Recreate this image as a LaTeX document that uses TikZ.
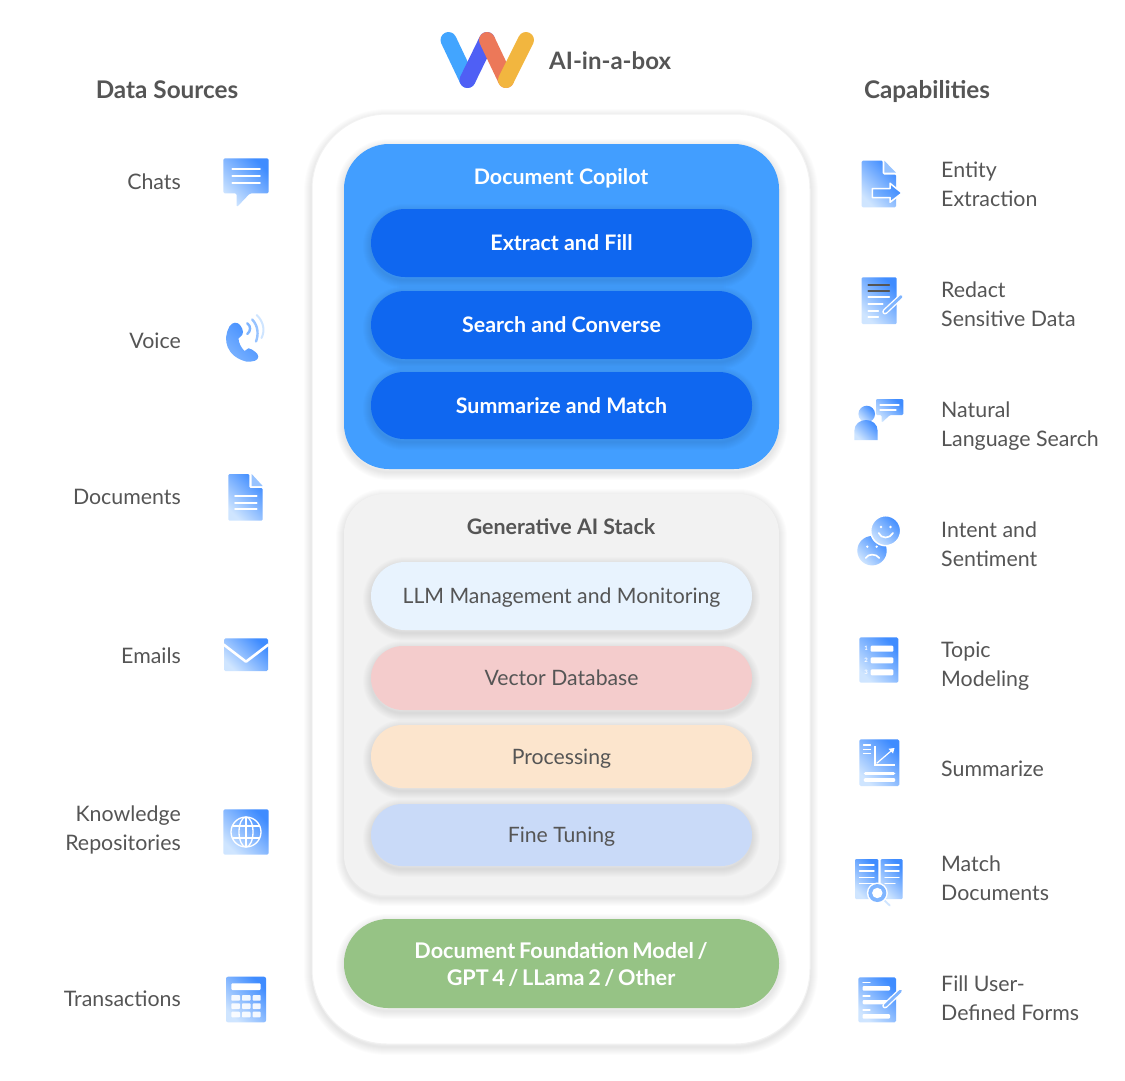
\documentclass[tikz,border=0pt]{standalone}
\usepackage{fontspec}
\setmainfont{Lato}
\definecolor{txt}{HTML}{555555}
\definecolor{iconA}{HTML}{3F8CFF}
\definecolor{iconB}{HTML}{CFE5FF}
\definecolor{iconM}{HTML}{7FB5FF}
\definecolor{panelblue}{HTML}{429EFF}
\definecolor{pillblue}{HTML}{0F67F0}
\definecolor{panelgrey}{HTML}{F2F2F2}
\definecolor{pillA}{HTML}{E8F3FE}
\definecolor{pillB}{HTML}{F4CCCC}
\definecolor{pillC}{HTML}{FCE5CD}
\definecolor{pillD}{HTML}{C9DAF8}
\definecolor{panelgreen}{HTML}{96C385}
\definecolor{logoA}{HTML}{42A5FF}
\definecolor{logoB}{HTML}{4F5FF5}
\definecolor{logoC}{HTML}{EC7859}
\definecolor{logoD}{HTML}{F2B63F}
\newcommand{\tightsp}{\spaceskip=3.6pt\relax}
\newcommand{\midline}[1]{\raisebox{-7.5pt}[0pt][0pt]{#1}}
\tikzset{
  lab/.style={font=\fontsize{21.35}{29}\selectfont,text=txt,inner sep=0pt},
  labL/.style={lab,align=right,anchor=east},
  labR/.style={lab,align=left,anchor=west},
  heading/.style={font=\fontsize{24.3}{29}\bfseries\selectfont,text=txt,inner sep=0pt},
  whitetxt/.style={font=\fontsize{21.4}{27}\bfseries\selectfont,text=white,align=center},
  greytxt/.style={font=\fontsize{21.2}{27}\selectfont,text=txt,align=center},
  ic/.style={left color=iconA,right color=iconB,shading angle=-45},
  icdark/.style={left color=iconA,right color=iconM,shading angle=-45},
  wl/.style={draw=white,line width=1.7pt,line cap=round},
  wf/.style={fill=white,rounded corners=1pt},
  logostroke/.style={line width=16pt,line cap=round}
}
% name, x1, y1, x2, y2, radius, node style, text
\newcommand{\card}[8]{%
  \foreach \s in {2,4,...,16}{%
    \path[draw=black,draw opacity=.012,line width=\s pt,rounded corners=#6 pt]
      (#2,#3+3) rectangle (#4,#5+3);}
  \pgfmathsetmacro{\cw}{#4-#2}\pgfmathsetmacro{\ch}{#5-#3}
  \node[minimum width=\cw pt,minimum height=\ch pt,inner sep=0pt,rounded corners=#6 pt,#7] (#1)
    at ({(#2+#4)/2},{(#3+#5)/2}) {#8};}
\begin{document}
\begin{tikzpicture}[x=1pt,y=-1pt]
\useasboundingbox (0,0) rectangle (1125,1080);
\fill[white] (0,0) rectangle (1125,1080);

% logo
\draw[logostroke,logoA] (448.5,40) -- (467.5,80);
\draw[logostroke,logoB] (467.5,80) -- (487,40);
\draw[logostroke,logoC] (487,40) -- (506,80);
\draw[logostroke,logoD] (506,80) -- (526,40);
\node[font=\fontsize{24}{29}\bfseries\selectfont,text=txt,anchor=west,inner sep=0pt] (brand) at (549,61) {AI-in-a-box};

\node[heading] (dshead) at (167,89.5) {Data Sources};
\node[heading] (caphead) at (927,91) {Capabilities};

% main panels
\card{outer}{312}{114}{810}{1044}{75}{fill=white,draw=black!5,line width=1pt}{}
\card{copilot}{344}{144}{779}{469}{45}{fill=panelblue}{}
\node[whitetxt] (copilottitle) at (561,178) {Document Copilot};
\card{extract}{371}{209}{752}{277}{34}{fill=pillblue,whitetxt}{\midline{Extract and Fill}}
\card{search}{371}{291}{752}{359}{34}{fill=pillblue,whitetxt}{\midline{Search and Converse}}
\card{summ}{371}{372}{752}{439}{33}{fill=pillblue,whitetxt}{\midline{Summarize and Match}}
\card{stack}{344}{494}{779}{895}{40}{fill=panelgrey}{}
\node[font=\fontsize{21.4}{27}\bfseries\selectfont,text=txt] (stacktitle) at (561,527) {Generative AI Stack};
\card{llm}{371}{562}{752}{630}{34}{fill=pillA,greytxt}{\midline{LLM Management and Monitoring}}
\card{vector}{371}{646}{752}{710}{32}{fill=pillB,greytxt}{\midline{Vector Database}}
\card{proc}{371}{725}{752}{788}{31}{fill=pillC,greytxt}{\midline{Processing}}
\card{tune}{371}{804}{752}{866}{31}{fill=pillD,greytxt}{\midline{Fine Tuning}}
\card{found}{344}{919}{779}{1008}{44}{fill=panelgreen}{}
\node[whitetxt,font=\fontsize{21.6}{27}\bfseries\selectfont\tightsp] (foundtext) at (561,964) {Document Foundation Model /\\GPT 4 / LLama 2 / Other};

% left labels
\node[labL] (l1) at (181,182) {Chats};
\node[labL] (l2) at (181,341) {Voice};
\node[labL] (l3) at (181,497) {Documents};
\node[labL] (l4) at (181,656) {Emails};
\node[labL] (l5) at (181,830) {Knowledge\\Repositories};
\node[labL] (l6) at (181,999) {Transactions};

% right labels
\node[labR] (r1) at (941,184.5) {Entity\\Extraction};
\node[labR] (r2) at (941,304.5) {Redact\\Sensitive Data};
\node[labR] (r3) at (941,426) {Natural\\Language Search};
\node[labR] (r4) at (941,544) {Intent and\\Sentiment};
\node[labR] (r5) at (941,666) {Topic\\Modeling};
\node[labR] (r6) at (941,769) {Summarize};
\node[labR] (r7) at (941,878) {Match\\Documents};
\node[labR] (r8) at (941,998) {Fill User-\\Defined Forms};

% --- left icons ---
% chat
\shade[ic,rounded corners=1.5pt] (223.3,158.3) -- (268.7,158.3) -- (268.7,193.3) -- (250,193.3) -- (236.7,207.3) -- (236.7,193.3) -- (223.3,193.3) -- cycle;
\foreach \y in {169.3,176.3,183.3} \draw[wl] (232.3,\y) -- (260,\y);
% phone
\shade[icdark] (229.3,326.7) .. controls (231,324) and (233,322.7) .. (235,322.7) .. controls (237,322.7) and (239,323.5) .. (240,325)
  .. controls (241.5,327) and (243,329.5) .. (243,331.7) .. controls (243,334) and (242,336) .. (240.5,336.7)
  -- (238.5,338.3) .. controls (238.5,342.5) and (241,347.5) .. (244.5,351) -- (248.5,348.3)
  .. controls (250.5,348.5) and (253,350) .. (255,351.7) .. controls (257,353) and (258.3,355) .. (258.3,356.7)
  .. controls (258.3,358.5) and (257,360) .. (255,360.7) .. controls (252,361.7) and (249,361.7) .. (246.7,361.7)
  .. controls (226.7,356.7) and (222,340) .. (229.3,326.7) -- cycle;
\draw[iconM,line width=2.4pt,line cap=round] (247.3,323.3) .. controls (251,326) and (251,331) .. (247.3,334);
\draw[iconM!70!iconB,line width=2.4pt,line cap=round] (252.2,319.5) .. controls (258.5,326) and (258.5,335) .. (256,341.5);
\draw[iconB,line width=2pt,line cap=round] (256.7,315) .. controls (264,322) and (265,331) .. (261.5,338);
% document
\shade[ic,rounded corners=1.2pt] (228.3,474) -- (249.3,474) -- (249.3,488) -- (262.7,488) -- (262.7,520.7) -- (228.3,520.7) -- cycle;
\fill[iconM!70!iconB] (251.7,474) -- (262.7,486) -- (251.7,486) -- cycle;
\foreach \y in {496,502.7,509.3} \draw[wl] (235,\y) -- (256.7,\y);
% mail
\shade[ic,rounded corners=1.5pt] (224,638.3) rectangle (268,671);
\draw[draw=white,line width=2.6pt,line join=round] (223.5,644.5) -- (246,661.7) -- (268.5,644.5);
% globe
\shade[ic,rounded corners=1.5pt] (223.3,809.3) rectangle (268.7,854.7);
\draw[white,line width=1.3pt] (246,832) circle (15);
\draw[white,line width=1.3pt] (246,832) ellipse (7 and 15);
\draw[white,line width=1.3pt] (246,817) -- (246,847) (232.5,826) -- (259.5,826) (232.5,838) -- (259.5,838);
% calculator
\shade[ic,rounded corners=2pt] (226,976.7) rectangle (266,1022.3);
\fill[wf] (231.3,983.3) rectangle (260.7,990);
\foreach \x/\w in {231.3/240,242/250.5,252.7/260.7}
  \foreach \y/\v in {995/1000.7,1003.3/1009,1011.7/1017.3}
    \fill[white,rounded corners=.8pt,fill opacity=.9] (\x,\y) rectangle (\w,\v);

% --- right icons ---
% entity extraction
\shade[ic,rounded corners=1.2pt] (861.7,160.7) -- (882.7,160.7) -- (882.7,174.5) -- (896,174.5) -- (896,207.3) -- (861.7,207.3) -- cycle;
\fill[iconM!70!iconB] (884.3,160.7) -- (896,172.7) -- (884.3,172.7) -- cycle;
\shade[icdark,draw=white,line width=1.5pt,line join=round] (872.3,188.5) -- (890,188.5) -- (890,183.3) -- (902,193) -- (890,202.3) -- (890,197.5) -- (872.3,197.5) -- cycle;
% redact
\shade[ic,rounded corners=1.2pt] (861.7,277.3) rectangle (896.7,324);
\foreach \y in {284.7,291} \draw[txt,line width=1.7pt,line cap=round] (868.3,\y) -- (889.3,\y);
\foreach \y/\e in {297.3/889.3,304/882.7,310.7/878.3,316.7/878.3} \draw[wl] (868.3,\y) -- (\e,\y);
\draw[white,line width=5.5pt,line cap=round] (885,311.7) -- (901.2,296.5);
\draw[iconM,line width=2.8pt,line cap=round] (885,311.7) -- (901.2,296.5);
% person + bubble
\shade[ic] (866.7,414) circle (8.3);
\shade[ic] (854.3,440) -- (854.3,431) .. controls (854.3,424) and (860,420) .. (866,420) .. controls (872,420) and (877.7,424) .. (877.7,431) -- (877.7,440) -- cycle;
\shade[ic,rounded corners=1.2pt] (876,399) -- (903.3,399) -- (903.3,415) -- (890,415) -- (881.7,422.7) -- (881.7,415) -- (876,415) -- cycle;
\draw[wl,line width=1.3pt] (880,405) -- (899,405) (880,410) -- (896,410);
% faces
\shade[ic] (872,550.7) circle (14.7);
\fill[white] (867.3,546.7) circle (1.3) (876.7,546.7) circle (1.3);
\draw[white,line width=1.7pt,line cap=round] (865.7,558) .. controls (868,553.5) and (876,553.5) .. (879.3,558);
\shade[ic,draw=white,line width=1.5pt] (885.7,530.7) circle (15);
\fill[white] (881,527) circle (1.3) (890.5,527) circle (1.3);
\draw[white,line width=1.7pt,line cap=round] (878.7,533) .. controls (881,539) and (890,539) .. (893,533);
% topic modeling
\shade[ic,rounded corners=1.5pt] (859.3,637.3) rectangle (898.3,682.7);
\fill[wf] (870.7,645.7) rectangle (893.3,651.7);
\fill[wf] (870.7,657.3) rectangle (893.3,663.3);
\fill[wf] (870.7,669.3) rectangle (893.3,675.3);
\node[font=\fontsize{6}{6}\bfseries\selectfont,text=white,inner sep=0pt] (n1) at (866,648.7) {1};
\node[font=\fontsize{6}{6}\bfseries\selectfont,text=white,inner sep=0pt] (n2) at (866,660.3) {2};
\node[font=\fontsize{6}{6}\bfseries\selectfont,text=white,inner sep=0pt] (n3) at (866,672.3) {3};
% summarize
\shade[ic,rounded corners=1.5pt] (859.3,739.3) rectangle (899.3,786);
\foreach \y in {745,749.3,753.7} \draw[wl,line width=1.2pt] (863.5,\y) -- (870.5,\y);
\draw[white,line width=1.2pt] (875,746) -- (875,765) -- (895,765);
\draw[white,line width=1.2pt] (876.7,763.3) -- (893,749.3);
\fill[white] (894.5,748) -- (888.5,748.8) -- (893,753.5) -- cycle;
\draw[wl,line width=3.6pt] (865.5,773.3) -- (893.5,773.3) (865.5,780) -- (893.5,780);
% match documents
\shade[ic,rounded corners=1.2pt] (855,859) rectangle (878.3,899);
\shade[ic,rounded corners=1.2pt] (880.7,859) rectangle (902.7,899);
\foreach \y in {865,871,877.3,883.3} \draw[wl,line width=1.4pt] (859.5,\y) -- (874,\y);
\foreach \y/\e in {865/899,871/899,877.3/899,883.3/895} \draw[wl,line width=1.4pt] (885,\y) -- (\e,\y);
\draw[white,line width=4pt,line cap=round] (883,899) -- (889.8,905.5);
\draw[iconB,line width=1.8pt,line cap=round] (883,899) -- (889.8,905.5);
\fill[white] (877.3,893) circle (10.5);
\fill[iconM] (877.3,893) circle (9);
\fill[white] (877.3,893) circle (5.2);
% fill forms
\shade[ic,rounded corners=1.5pt] (858.3,977.3) rectangle (896,1022.3);
\foreach \y in {982.3,996,1010} \draw[wl,line width=1.3pt] (863,\y) -- (870,\y);
\foreach \y/\v in {986/990.7,1000/1004.3,1014/1018.7} \fill[wf] (862.7,\y) rectangle (890,\v);
\draw[white,line width=5.5pt,line cap=round] (885,1005.7) -- (900.5,991);
\draw[iconM,line width=2.8pt,line cap=round] (885,1005.7) -- (900.5,991);
\end{tikzpicture}
\end{document}
